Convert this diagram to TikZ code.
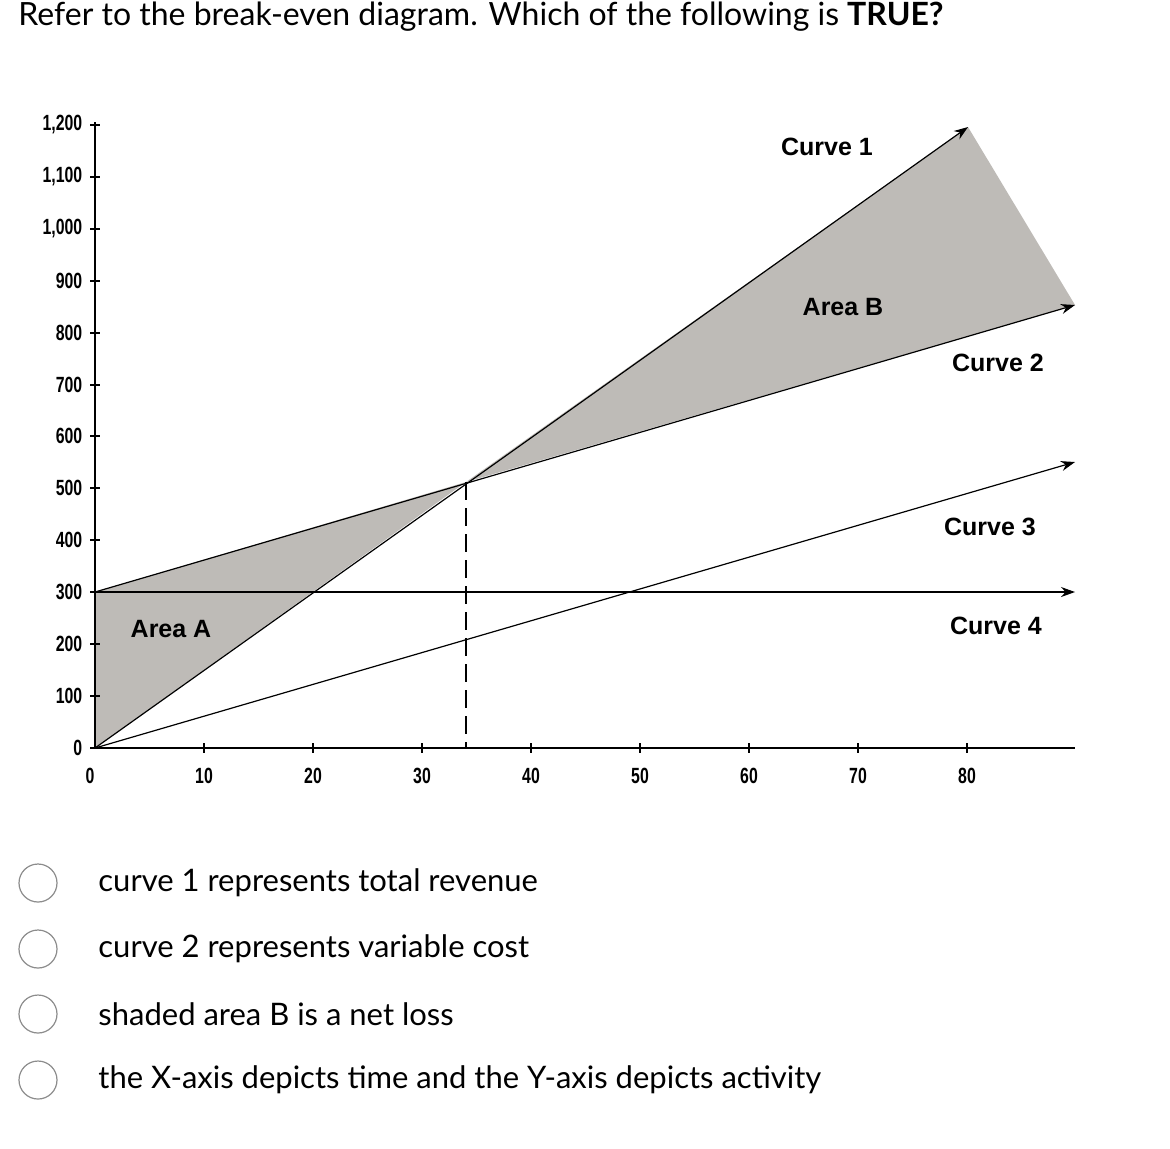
\documentclass[tikz,border=0pt]{standalone}
\usepackage{fontspec}
\setmainfont{Lato}
\newfontfamily\chartfont{Liberation Sans}
\usetikzlibrary{arrows.meta}
\tikzset{
  ln/.style={black, line width=0.6pt},
  arr/.style={ln,-{Stealth[length=7pt,width=5pt]}},
  tick/.style={font=\chartfont\bfseries\fontsize{11}{13}\selectfont, xscale=0.72, inner sep=1pt},
  lab/.style={font=\chartfont\bfseries\fontsize{12.5}{14}\selectfont, inner sep=0pt},
  opt/.style={font=\fontsize{15.5}{18}\selectfont, anchor=west, inner sep=0pt},
  radio/.style={draw=black!45, line width=0.6pt}
}
\begin{document}
\begin{tikzpicture}[x=0.5pt,y=-0.5pt]
\useasboundingbox (0,0) rectangle (1170,1148);
\node[anchor=west,inner sep=0pt,font=\fontsize{16}{18}\selectfont] (q) at (18,17) {Refer to the break-even diagram. Which of the following is \textbf{TRUE?}};
\coordinate (O) at (95,748);
\coordinate (Y0) at (95,592);
\coordinate (BE) at (466,482);
\coordinate (C1) at (968,127);
\coordinate (C2) at (1075,305);
\coordinate (C3) at (1075,462);
\coordinate (C4) at (1075,592);
\coordinate (XE) at (1075,748);
\coordinate (YT) at (95,122);
\coordinate (BEx) at (466,748);
\fill[fill={rgb,255:red,190;green,187;blue,183}] (O) -- (BE) -- (Y0) -- cycle;
\fill[fill={rgb,255:red,190;green,187;blue,183}] (BE) -- (C1) -- (C2) -- cycle;
\draw[ln] (YT) -- (O) -- (XE);
\foreach \v/\y in {0/748,100/696,200/644,300/592,400/540,500/488,600/436,700/385,800/333,900/281,1000/229,1100/177,1200/125}{
  \draw[ln] (90,\y) -- (100,\y);
  \node[tick,anchor=east] (t\v) at (84,\y) {\ifnum\v>999 1,\the\numexpr\v-1000\relax\ifnum\v=1000 00\fi\else\v\fi};
}
\foreach \v/\x in {10/204,20/313,30/422,40/531,50/640,60/749,70/858,80/967}{
  \draw[ln] (\x,743) -- (\x,753);
  \node[tick] (x\v) at (\x,776) {\v};
}
\node[tick] (x0) at (90,776) {0};
\draw[arr] (O) -- (C1);
\draw[arr] (Y0) -- (C2);
\draw[arr] (O) -- (C3);
\draw[arr] (Y0) -- (C4);
\draw[ln, dash pattern=on 9pt off 4pt] (BE) -- (BEx);
\node[lab] (l1) at (827,147) {Curve 1};
\node[lab] (lB) at (843,307) {Area B};
\node[lab] (l2) at (998,363) {Curve 2};
\node[lab] (l3) at (990,527) {Curve 3};
\node[lab] (l4) at (996,626) {Curve 4};
\node[lab] (lA) at (171,629) {Area A};
\foreach \y/\t [count=\i] in {883/curve 1 represents total revenue,949/curve 2 represents variable cost,1014/shaded area B is a net loss,1080/the X-axis depicts time and the Y-axis depicts activity}{
  \draw[radio] (38,\y) circle (19);
  \node[opt] (o\i) at (98,\y) {\t};
}
\end{tikzpicture}
\end{document}
